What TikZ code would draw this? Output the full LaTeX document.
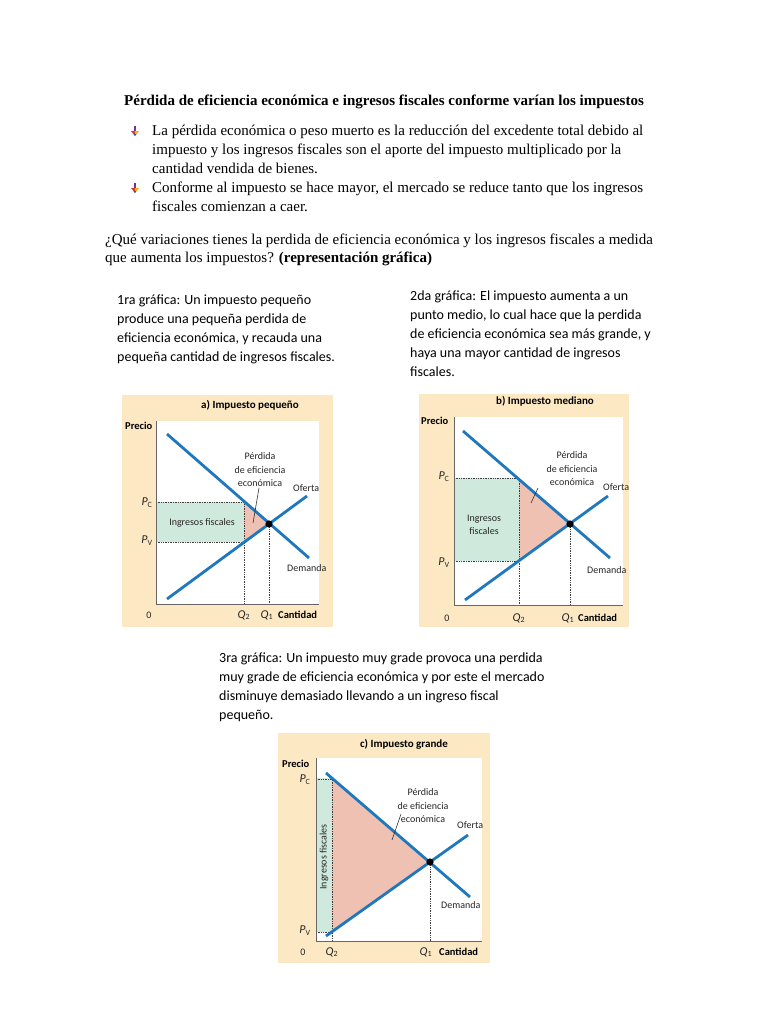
\documentclass[tikz,border=0pt]{standalone}
\usepackage{fontspec}
\setmainfont{Liberation Serif}
\newfontfamily\calfont{Carlito}
\newfontfamily\gf{Carlito}
\definecolor{beige}{HTML}{FCE8C3}
\definecolor{bline}{HTML}{1F78BE}
\definecolor{gfill}{HTML}{CFE9DD}
\definecolor{rfill}{HTML}{EFC1B3}
\definecolor{bpurple}{HTML}{7A2E8E}
\definecolor{bred}{HTML}{E03C31}
\definecolor{bgold}{HTML}{F2B705}
\definecolor{bblue}{HTML}{2A4FC0}
\tikzset{
  body/.style={anchor=base west, inner sep=0pt, font=\fontsize{15}{19}\selectfont},
  para/.style={anchor=base west, inner sep=0pt, font=\calfont\fontsize{14}{19}\selectfont},
  glab/.style={inner sep=0pt, text=black!85, font=\gf\fontsize{10}{11}\selectfont},
  gsym/.style={inner sep=0pt, text=black!85, font=\gf\fontsize{12}{13}\selectfont},
  gblock/.style={inner sep=0pt, text=black!85, align=center, font=\gf\fontsize{10}{13.5}\selectfont},
  gbold/.style={inner sep=0pt, font=\gf\bfseries\fontsize{10.5}{12}\selectfont},
  gtitle/.style={inner sep=0pt, font=\gf\bfseries\fontsize{11}{12}\selectfont},
  curve/.style={line width=2.8pt, draw=bline},
  axisline/.style={draw=black!60, line width=0.9pt},
  dotline/.style={densely dotted, line width=0.7pt, draw=black!75},
  pointer/.style={draw=black!80, line width=0.6pt},
  bulletic/.pic={
    \fill[bpurple] (-0.9,-5) rectangle (0.9,0.5);
    \fill[bred] (-4,0) -- (0,0) -- (0,5) -- cycle;
    \fill[bgold] (0,0) -- (4,0) -- (0,5) -- cycle;
    \fill[bblue] (-1.6,2.8) -- (1.6,2.8) -- (0,5) -- cycle;
  }
}
\begin{document}
\begin{tikzpicture}[x=1pt,y=-1pt]
\useasboundingbox (0,0) rectangle (768,1024);
\fill[white] (0,0) rectangle (768,1024);

% ---------- text ----------
\node[anchor=base, inner sep=0pt, font=\bfseries\fontsize{15}{19}\selectfont] (title) at (384,106)
  {Pérdida de eficiencia económica e ingresos fiscales conforme varían los impuestos};
\pic at (135,131) {bulletic};
\node[body] (b1a) at (152,136) {La pérdida económica o peso muerto es la reducción del excedente total debido al};
\node[body] (b1b) at (152,155) {impuesto y los ingresos fiscales son el aporte del impuesto multiplicado por la};
\node[body] (b1c) at (152,174) {cantidad vendida de bienes.};
\pic at (135,188) {bulletic};
\node[body] (b2a) at (152,193) {Conforme al impuesto se hace mayor, el mercado se reduce tanto que los ingresos};
\node[body] (b2b) at (152,212) {fiscales comienzan a caer.};
\node[body] (qa) at (105,244) {¿Qué variaciones tienes la perdida de eficiencia económica y los ingresos fiscales a medida};
\node[body] (qb) at (105,262) {que aumenta los impuestos? \textbf{(representación gráfica)}};

\node[para] (p1a) at (117,304) {1ra gráfica: Un impuesto pequeño};
\node[para] (p1b) at (117,323) {produce una pequeña perdida de};
\node[para] (p1c) at (117,342) {eficiencia económica, y recauda una};
\node[para] (p1d) at (117,361) {pequeña cantidad de ingresos fiscales.};

\node[para] (p2a) at (410,300) {2da gráfica: El impuesto aumenta a un};
\node[para] (p2b) at (410,319) {punto medio, lo cual hace que la perdida};
\node[para] (p2c) at (410,338) {de eficiencia económica sea más grande, y};
\node[para] (p2d) at (410,357) {haya una mayor cantidad de ingresos};
\node[para] (p2e) at (410,376) {fiscales.};

\node[para] (p3a) at (219,662) {3ra gráfica: Un impuesto muy grade provoca una perdida};
\node[para] (p3b) at (219,681) {muy grade de eficiencia económica y por este el mercado};
\node[para] (p3c) at (219,700) {disminuye demasiado llevando a un ingreso fiscal};
\node[para] (p3d) at (219,719) {pequeño.};

% ---------- graph a ----------
\fill[beige] (122,395) rectangle (333,627);
\fill[white] (156,421) rectangle (319,604);
\fill[gfill] (156,502) rectangle (244,542);
\fill[rfill] (244,501) -- (244,542) -- (269,524) -- cycle;
\draw[dotline] (156,502) -- (244,502) -- (244,604);
\draw[dotline] (156,542) -- (244,542);
\draw[dotline] (269,524) -- (269,604);
\draw[axisline] (156,421) -- (156,604) -- (319,604);
\coordinate (aD1) at (167,434); \coordinate (aD2) at (309,558);
\coordinate (aS1) at (167,599); \coordinate (aS2) at (307,496);
\draw[curve] (aD1) -- (aD2);
\draw[curve] (aS1) -- (aS2);
\fill[black] (269,524) circle (3.6pt);
\node[gtitle] (atitle) at (250,405) {a) Impuesto pequeño};
\node[gbold, anchor=west] (aprecio) at (125,426) {Precio};
\node[gblock] (aperd) at (260,470) {Pérdida\\de eficiencia\\económica};
\coordinate (aptr) at (253,523);
\draw[pointer] (259,488) -- (aptr);
\node[glab] (aing) at (202,523) {Ingresos fiscales};
\node[glab, anchor=west] (aof) at (293,488) {Oferta};
\node[glab, anchor=west] (adem) at (287,568) {Demanda};
\node[gsym] (apc) at (147,503) {\textit{P}\textsubscript{C}};
\node[gsym] (apv) at (147,541) {\textit{P}\textsubscript{V}};
\node[glab] (a0) at (149,615) {0};
\node[gsym] (aq2) at (244,615) {\textit{Q}\textsubscript{2}};
\node[gsym] (aq1) at (267,615) {\textit{Q}\textsubscript{1}};
\node[gbold, anchor=west] (acant) at (278,615) {Cantidad};

% ---------- graph b ----------
\fill[beige] (419,394) rectangle (629,627);
\fill[white] (454,417) rectangle (623,605);
\fill[gfill] (454,478) rectangle (519,561);
\fill[rfill] (519,478) -- (519,561) -- (570,524) -- cycle;
\draw[dotline] (454,478) -- (519,478) -- (519,605);
\draw[dotline] (454,561) -- (519,561);
\draw[dotline] (570,524) -- (570,605);
\draw[axisline] (454,417) -- (454,605) -- (623,605);
\coordinate (bD1) at (463,431); \coordinate (bD2) at (610,558);
\coordinate (bS1) at (465,600); \coordinate (bS2) at (608,496);
\draw[curve] (bD1) -- (bD2);
\draw[curve] (bS1) -- (bS2);
\fill[black] (570,524) circle (3.6pt);
\node[gtitle] (btitle) at (545,401) {b) Impuesto mediano};
\node[gbold, anchor=west] (bprecio) at (421,421) {Precio};
\node[gblock] (bperd) at (572,469) {Pérdida\\de eficiencia\\económica};
\draw[pointer] (538,488) -- (531,503);
\node[gblock] (bing) at (484,525) {Ingresos\\fiscales};
\node[glab, anchor=west] (bof) at (603,487) {Oferta};
\node[glab, anchor=west] (bdem) at (587,570) {Demanda};
\node[gsym] (bpc) at (444,477) {\textit{P}\textsubscript{C}};
\node[gsym] (bpv) at (444,563) {\textit{P}\textsubscript{V}};
\node[glab] (b0) at (447,618) {0};
\node[gsym] (bq2) at (519,618) {\textit{Q}\textsubscript{2}};
\node[gsym] (bq1) at (568,618) {\textit{Q}\textsubscript{1}};
\node[gbold, anchor=west] (bcant) at (578,618) {Cantidad};

% ---------- graph c ----------
\fill[beige] (278,733) rectangle (490,963);
\fill[white] (316,758) rectangle (482,941);
\fill[gfill] (316,778) rectangle (332,932);
\fill[rfill] (332,778) -- (332,932) -- (430,862) -- cycle;
\draw[dotline] (316,779) -- (332,779) -- (332,941);
\draw[dotline] (316,932) -- (332,932);
\draw[dotline] (430,862) -- (430,941);
\draw[axisline] (316,758) -- (316,941) -- (482,941);
\coordinate (cD1) at (326,773); \coordinate (cD2) at (470,897);
\coordinate (cS1) at (326,936); \coordinate (cS2) at (468,835);
\draw[curve] (cD1) -- (cD2);
\draw[curve] (cS1) -- (cS2);
\fill[black] (430,862) circle (3.6pt);
\node[gtitle] (ctitle) at (404,744) {c) Impuesto grande};
\node[gbold, anchor=west] (cprecio) at (282,764) {Precio};
\node[gblock] (cperd) at (423,806) {Pérdida\\de eficiencia\\económica};
\draw[pointer] (401,814) -- (392,840);
\node[glab, rotate=90] (cing) at (324,857) {Ingresos fiscales};
\node[glab, anchor=west] (cof) at (457,825) {Oferta};
\node[glab, anchor=west] (cdem) at (441,905) {Demanda};
\node[gsym] (cpc) at (305,780) {\textit{P}\textsubscript{C}};
\node[gsym] (cpv) at (305,931) {\textit{P}\textsubscript{V}};
\node[glab] (c0) at (303,952) {0};
\node[gsym] (cq2) at (332,952) {\textit{Q}\textsubscript{2}};
\node[gsym] (cq1) at (426,952) {\textit{Q}\textsubscript{1}};
\node[gbold, anchor=west] (ccant) at (439,952) {Cantidad};
\end{tikzpicture}
\end{document}
